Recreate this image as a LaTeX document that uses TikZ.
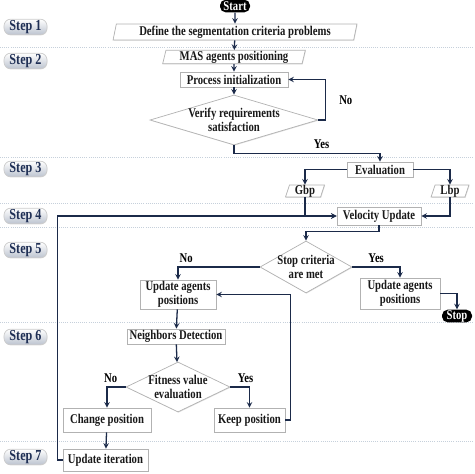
\documentclass[tikz,border=0pt]{standalone}
\usepackage{fontspec}
\setmainfont{Liberation Serif}[FakeStretch=0.8]
\usepackage{tikz}
\usetikzlibrary{arrows,shapes.geometric,shadows}

\definecolor{flowline}{HTML}{1B2A49}
\definecolor{steptext}{HTML}{1F2F55}
\definecolor{stepfill}{HTML}{BCC3CF}
\definecolor{sepline}{HTML}{C6D0DB}

\begin{document}
\begin{tikzpicture}[x=0.03cm,y=-0.03cm,font=\bfseries\fontsize{11.4}{12}\selectfont,semithick]
        \tikzstyle{procbox}=[
            rectangle,
            draw=gray!60,
            fill=white,
            inner sep=0pt,
            align=center,
            text=black!90,
            drop shadow={shadow xshift=0.5pt,shadow yshift=-0.6pt,fill=black!25}
        ]
        \tikzstyle{iobox}=[
            trapezium,
            trapezium left angle=78,
            trapezium right angle=102,
            trapezium stretches=true,
            draw=gray!60,
            fill=white,
            inner sep=0pt,
            text=black!90,
            drop shadow={shadow xshift=0.5pt,shadow yshift=-0.6pt,fill=black!25}
        ]
        \tikzstyle{decision}=[
            diamond,
            draw=gray!60,
            fill=white,
            inner sep=0pt,
            drop shadow={shadow xshift=0.5pt,shadow yshift=-0.6pt,fill=black!25}
        ]
        \tikzstyle{terminal}=[
            rectangle,
            rounded corners=0.17cm,
            fill=black,
            text=white,
            inner sep=0pt,
            minimum width=0.9cm,
            minimum height=0.38cm
        ]
        \tikzstyle{steplabel}=[
            rectangle,
            rounded corners=0.2cm,
            draw=gray!40,
            top color=white,
            bottom color=stepfill,
            text=steptext,
            inner sep=0pt,
            minimum width=1.29cm,
            minimum height=0.47cm,
            font=\bfseries\fontsize{13}{14}\selectfont,
            drop shadow={shadow xshift=0.4pt,shadow yshift=-0.5pt,fill=black!20}
        ]
        \tikzstyle{flow}=[-stealth, line width=1.1pt, draw=flowline]
        \tikzstyle{sep}=[densely dotted, line width=0.8pt, draw=sepline]

        \useasboundingbox (0,0) rectangle (474,474);

        % separators between the steps
        \draw[sep] (0,47) -- (474,47);
        \draw[sep] (0,157) -- (474,157);
        \draw[sep] (0,203) -- (474,203);
        \draw[sep] (0,227) -- (474,227);
        \draw[sep] (0,322) -- (474,322);
        \draw[sep] (0,441) -- (474,441);

        % step labels
        \node[steplabel] (S1) at (25.5,27){Step 1};
        \node[steplabel] (S2) at (25.5,61){Step 2};
        \node[steplabel] (S3) at (25.5,169){Step 3};
        \node[steplabel] (S4) at (25.5,216){Step 4};
        \node[steplabel] (S5) at (25.5,250){Step 5};
        \node[steplabel] (S6) at (25.5,337){Step 6};
        \node[steplabel] (S7) at (25.5,457){Step 7};

        % flow chart
        \node[terminal] (start) at (235,6){Start};
        \node[iobox, minimum width=7.32cm, minimum height=0.48cm] (define) at (235,32){Define the segmentation criteria problems};
        \node[iobox, minimum width=4.32cm, minimum height=0.4cm] (mas) at (234,57){MAS agents positioning};
        \node[procbox, minimum width=3.24cm, minimum height=0.45cm] (init) at (234,79.5){Process initialization};
        \node[decision, minimum width=5.04cm, minimum height=1.5cm,
              label={[align=center,text=black!90]center:Verify requirements\\satisfaction}] (verify) at (234,120){};
        \node[procbox, minimum width=1.98cm, minimum height=0.45cm] (eval) at (380,169.5){Evaluation};
        \node[iobox, minimum width=1.17cm, minimum height=0.36cm] (gbp) at (305,191){Gbp};
        \node[iobox, minimum width=1.14cm, minimum height=0.36cm] (lbp) at (450,191){Lbp};
        \node[procbox, minimum width=2.52cm, minimum height=0.54cm] (vel) at (379,216){Velocity Update};
        \node[decision, minimum width=2.76cm, minimum height=1.56cm,
              label={[align=center,text=black!90]center:Stop criteria\\are met}] (stopc) at (306,267){};
        \node[procbox, minimum width=2.28cm, minimum height=0.87cm] (uapl) at (178,294.5){Update agents\\positions};
        \node[procbox, minimum width=2.4cm, minimum height=0.93cm] (uapr) at (400,293.5){Update agents\\positions};
        \node[terminal] (stop) at (457,316){Stop};
        \node[procbox, minimum width=2.94cm, minimum height=0.45cm] (nbr) at (176,336.5){Neighbors Detection};
        \node[decision, minimum width=3.12cm, minimum height=1.5cm,
              label={[align=center,text=black!90]center:Fitness value\\evaluation}] (fit) at (178,387){};
        \node[procbox, minimum width=2.64cm, minimum height=0.72cm] (change) at (107,420){Change position};
        \node[procbox, minimum width=2.13cm, minimum height=0.72cm] (keep) at (249.5,420){Keep position};
        \node[procbox, minimum width=2.55cm, minimum height=0.66cm] (iter) at (105.5,460){Update iteration};

        \draw[flow] (start) -- (define);
        \draw[flow] (define) -- (mas);
        \draw[flow] (mas) -- (init);
        \draw[flow] (init) -- (verify);
        \draw[flow] (verify.east) -- ++(7,0) |- (init.east) node[pos=0.25,right=8pt]{No};
        \draw[flow] (verify.south) -- ++(0,8) -| (eval.north) node[pos=0.3,above]{Yes};
        \draw[flow] (eval.west) -| (gbp.north);
        \draw[flow] (eval.east) -| (lbp.north);
        \draw[flow] (gbp.south) |- (vel.west);
        \draw[flow] (lbp.south) |- (vel.east);
        \draw[flow] (vel.south) -- ++(0,6) -| (stopc.north);
        \draw[flow] (stopc.west) -| (uapl.north) node[pos=0.45,above]{No};
        \draw[flow] (stopc.east) -| (uapr.north) node[pos=0.25,above]{Yes};
        \draw[flow] (uapr.east) -| (stop.north);
        \draw[flow] (uapl) -- (nbr);
        \draw[flow] (nbr) -- (fit);
        \draw[flow] (fit.west) -| (change.north) node[pos=0.4,above]{No};
        \draw[flow] (fit.east) -| (keep.north) node[pos=0.4,above]{Yes};
        \draw[flow] (keep.east) -- ++(5,0) |- (uapl.east);
        \draw[flow] (change) -- (iter);
        \draw[flow] (iter.west) -- ++(-5,0) |- (vel.west);

    \end{tikzpicture}
\end{document}
